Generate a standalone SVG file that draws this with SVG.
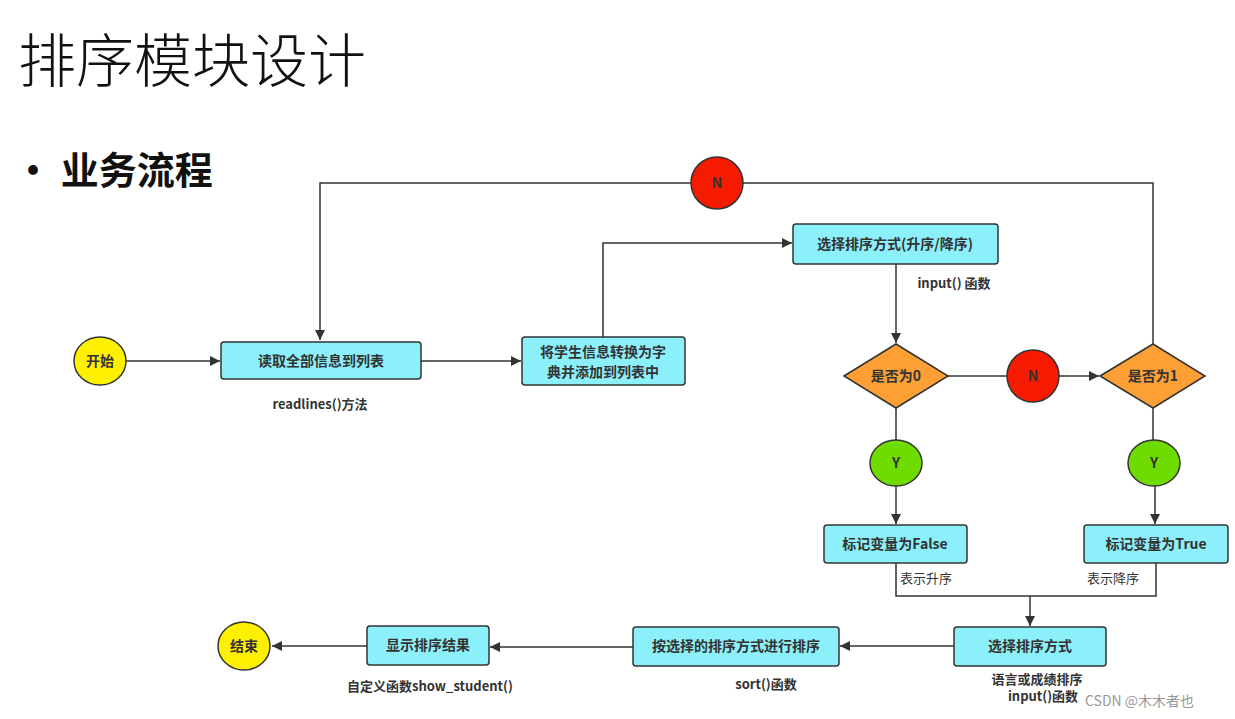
<svg xmlns="http://www.w3.org/2000/svg" width="1235" height="719" viewBox="0 0 1235 719">
<defs>
<marker id="ar" viewBox="0 0 10 10" refX="10" refY="5" markerWidth="10" markerHeight="10" markerUnits="userSpaceOnUse" orient="auto"><path d="M0,0 L10,5 L0,10 z" fill="#333"/></marker>
</defs>
<style>
text{font-family:"Noto Sans CJK SC","Noto Sans",sans-serif;fill:#333}
.b{fill:#8cf0fa;stroke:#333;stroke-width:1.5}
.t{font-size:14px;font-weight:bold;text-anchor:middle}
.l{font-size:13px;font-weight:bold;text-anchor:middle}
.c{fill:none;stroke:#333;stroke-width:1.5}
</style>
<rect width="1235" height="719" fill="#fff"/>
<text x="18" y="82" style="font-size:58px;font-weight:300;fill:#111">排序模块设计</text>
<text x="14" y="184" style="font-size:38px;font-weight:bold;fill:#111">• 业务流程</text>
<g id="connectors">
<path class="c" d="M126,361 H220" marker-end="url(#ar)"/>
<path class="c" d="M421,361 H521" marker-end="url(#ar)"/>
<path class="c" d="M603,337 V243 H792" marker-end="url(#ar)"/>
<path class="c" d="M896,264 V343" marker-end="url(#ar)"/>
<path class="c" d="M948,376 H1007"/>
<path class="c" d="M1059,376 H1099" marker-end="url(#ar)"/>
<path class="c" d="M1153,344 V183 H743"/>
<path class="c" d="M691,183 H320 V340" marker-end="url(#ar)"/>
<path class="c" d="M896,408 V440"/>
<path class="c" d="M896,486 V524" marker-end="url(#ar)"/>
<path class="c" d="M1153,408 V440"/>
<path class="c" d="M1155,486 V524" marker-end="url(#ar)"/>
<path class="c" d="M896,563 V596 H1156 V563"/>
<path class="c" d="M1030,596 V626" marker-end="url(#ar)"/>
<path class="c" d="M954,646 H840" marker-end="url(#ar)"/>
<path class="c" d="M633,647 H490" marker-end="url(#ar)"/>
<path class="c" d="M367,646 H272" marker-end="url(#ar)"/>
</g>
<g id="start"><ellipse cx="100" cy="361" rx="26" ry="24" fill="#fff000" stroke="#333" stroke-width="1.5"/><text x="100" y="366" class="t">开始</text></g>
<g id="read"><rect class="b" x="221" y="342" width="200" height="37" rx="3"/><text x="321" y="366" class="t">读取全部信息到列表</text><text x="320" y="409" class="l">readlines()方法</text></g>
<g id="convert"><rect class="b" x="522" y="337" width="163" height="48" rx="3"/><text x="603" y="357" class="t">将学生信息转换为字</text><text x="603" y="377" class="t">典并添加到列表中</text></g>
<g id="choose1"><rect class="b" x="793" y="224" width="205" height="40" rx="3"/><text x="895" y="249" class="t">选择排序方式(升序/降序)</text><text x="954" y="288" class="l">input() 函数</text></g>
<g id="d0"><path d="M844,376 L896,344 L948,376 L896,408 z" fill="#fca035" stroke="#333" stroke-width="1.5"/><text x="896" y="381" class="t">是否为0</text></g>
<g id="n1"><circle cx="1033" cy="376" r="26" fill="#f61b00" stroke="#333" stroke-width="1.5"/><text x="1033" y="381" class="t">N</text></g>
<g id="d1"><path d="M1100,376 L1153,344 L1205,376 L1153,408 z" fill="#fca035" stroke="#333" stroke-width="1.5"/><text x="1153" y="381" class="t">是否为1</text></g>
<g id="n2"><circle cx="717" cy="183" r="26" fill="#f61b00" stroke="#333" stroke-width="1.5"/><text x="717" y="188" class="t">N</text></g>
<g id="y0"><ellipse cx="896" cy="463" rx="26" ry="23" fill="#6fdc00" stroke="#333" stroke-width="1.5"/><text x="896" y="468" class="t">Y</text></g>
<g id="y1"><ellipse cx="1154" cy="463" rx="26" ry="23" fill="#6fdc00" stroke="#333" stroke-width="1.5"/><text x="1154" y="468" class="t">Y</text></g>
<g id="fbox"><rect class="b" x="824" y="525" width="143" height="38" rx="3"/><text x="895" y="549" class="t">标记变量为False</text><text x="900" y="583" style="font-size:13px">表示升序</text></g>
<g id="tbox"><rect class="b" x="1084" y="525" width="144" height="38" rx="3"/><text x="1156" y="549" class="t">标记变量为True</text><text x="1087" y="583" style="font-size:13px">表示降序</text></g>
<g id="choose2"><rect class="b" x="954" y="627" width="152" height="39" rx="3"/><text x="1030" y="651" class="t">选择排序方式</text><text x="1037" y="684" class="l">语言或成绩排序</text><text x="1043" y="701" class="l">input()函数</text></g>
<g id="sort"><rect class="b" x="633" y="627" width="206" height="39" rx="3"/><text x="736" y="651" class="t">按选择的排序方式进行排序</text><text x="766" y="689" class="l">sort()函数</text></g>
<g id="show"><rect class="b" x="367" y="626" width="122" height="39" rx="3"/><text x="428" y="650" class="t">显示排序结果</text><text x="430" y="691" class="l">自定义函数show_student()</text></g>
<g id="end"><ellipse cx="244" cy="646" rx="26" ry="24" fill="#fff000" stroke="#333" stroke-width="1.5"/><text x="244" y="651" class="t">结束</text></g>
<text x="1085" y="706" style="font-size:14px;fill:#999">CSDN @木木者也</text>
</svg>
